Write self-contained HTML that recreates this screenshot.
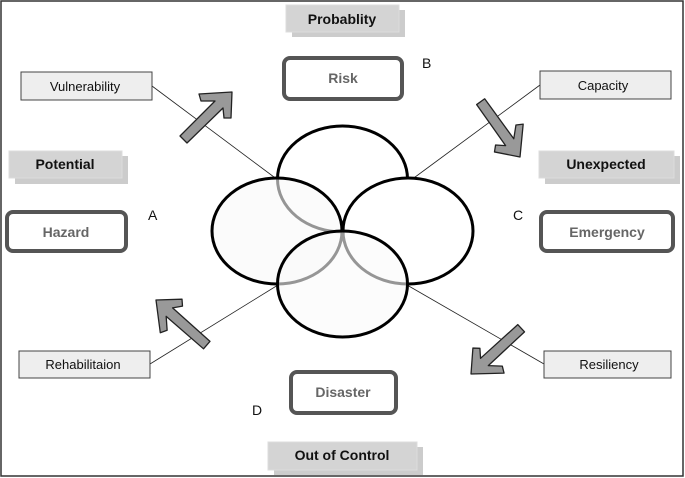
<!DOCTYPE html>
<html><head><meta charset="utf-8"><style>
html,body{margin:0;padding:0;background:#fff}
svg{display:block}
text{font-family:"Liberation Sans",Arial,sans-serif}
</style></head><body>
<svg width="685" height="478" viewBox="0 0 685 478" xmlns="http://www.w3.org/2000/svg">
<rect x="1" y="1" width="682" height="475" fill="#fff" stroke="#333" stroke-width="1.5"/>
<defs>
<polygon id="arr" points="0,0 -33,2 -31,9 -17,9 -52,44 -45,51 -9,16 -8,26 -1,26" fill="#999" stroke="#222" stroke-width="1.3" stroke-linejoin="round"/>
</defs>
<!-- connector lines -->
<g stroke="#222" stroke-width="0.8">
<line x1="152" y1="86" x2="278" y2="180"/>
<line x1="540" y1="85" x2="407" y2="183"/>
<line x1="150" y1="364" x2="278" y2="285"/>
<line x1="544" y1="364" x2="407" y2="285"/>
</g>
<!-- ellipses -->
<ellipse cx="342.5" cy="179" rx="65" ry="53" fill="#fff" stroke="#000" stroke-width="3"/>
<ellipse cx="277" cy="231" rx="65" ry="53" fill="#f8f8f8" fill-opacity="0.6" stroke="#000" stroke-width="3"/>
<ellipse cx="408" cy="231" rx="65" ry="53" fill="#fff" stroke="#000" stroke-width="3"/>
<ellipse cx="342.5" cy="284" rx="65" ry="53" fill="#fafafa" fill-opacity="0.6" stroke="#000" stroke-width="3"/>
<!-- arrows -->
<use href="#arr" transform="translate(232,92)"/>
<use href="#arr" transform="translate(520,157) rotate(99)"/>
<use href="#arr" transform="translate(156,300) rotate(-94)"/>
<use href="#arr" transform="translate(471,374) rotate(182)"/>
<!-- shadowed grey labels -->
<g fill="#ccc">
<rect x="292" y="10" width="113" height="27"/>
<rect x="15" y="156" width="113" height="28"/>
<rect x="545" y="156" width="135" height="28"/>
<rect x="274" y="447" width="149" height="28"/>
</g>
<g fill="#d4d4d4" stroke="#ddd" stroke-width="1">
<rect x="286" y="5" width="113" height="27"/>
<rect x="9" y="151" width="113" height="27"/>
<rect x="539" y="151" width="135" height="27"/>
<rect x="268" y="442" width="149" height="28"/>
</g>
<g font-weight="bold" font-size="14" fill="#111" text-anchor="middle">
<text x="342" y="24">Probablity</text>
<text x="65" y="169">Potential</text>
<text x="606" y="169">Unexpected</text>
<text x="342" y="460">Out of Control</text>
</g>
<!-- light boxes -->
<g fill="#eee" stroke="#444" stroke-width="1">
<rect x="21" y="72" width="131" height="28"/>
<rect x="540" y="71" width="131" height="28"/>
<rect x="19" y="351" width="131" height="27"/>
<rect x="544" y="351" width="127" height="27"/>
</g>
<g font-size="13" fill="#111" text-anchor="middle">
<text x="85" y="91">Vulnerability</text>
<text x="603" y="90">Capacity</text>
<text x="83" y="369">Rehabilitaion</text>
<text x="609" y="369">Resiliency</text>
</g>
<!-- rounded boxes -->
<g fill="#fff" stroke="#555" stroke-width="4">
<rect x="284" y="58" width="118" height="41" rx="6"/>
<rect x="7" y="212" width="119" height="39" rx="6"/>
<rect x="541" y="212" width="132" height="39" rx="6"/>
<rect x="291" y="372" width="105" height="41" rx="6"/>
</g>
<g font-weight="bold" font-size="14" fill="#666" text-anchor="middle">
<text x="343" y="83">Risk</text>
<text x="66" y="237">Hazard</text>
<text x="607" y="237">Emergency</text>
<text x="343" y="397">Disaster</text>
</g>
<g font-size="14" fill="#111">
<text x="422" y="68">B</text>
<text x="148" y="220">A</text>
<text x="513" y="220">C</text>
<text x="252" y="415">D</text>
</g>
</svg>
</body></html>
